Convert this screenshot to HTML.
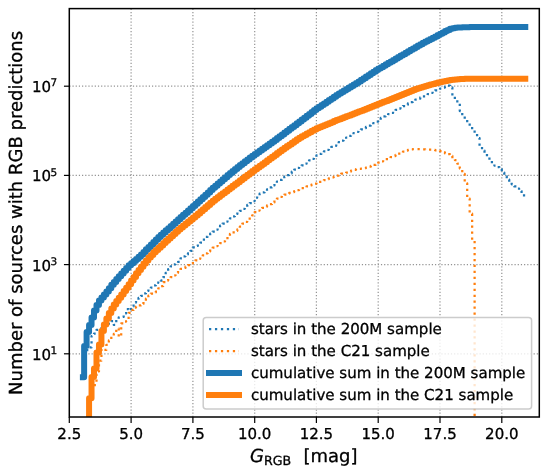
<!DOCTYPE html>
<html lang="en"><head><meta charset="utf-8"><title>Number of sources with RGB predictions</title>
<style>html,body{margin:0;padding:0;background:#fff;}svg{display:block;}text{font-family:"DejaVu Sans","Liberation Sans",sans-serif;fill:#000;stroke:#000;stroke-width:0.3px;text-rendering:geometricPrecision;}</style></head><body>
<svg width="550" height="472" viewBox="0 0 550 472">
<rect x="0" y="0" width="550" height="472" fill="#ffffff"/>
<defs><clipPath id="ax"><rect x="69.3" y="8.6" width="470.0" height="408.4"/></clipPath></defs>
<g stroke="#939393" stroke-width="1.2" stroke-dasharray="1.2 1.98" fill="none">
<line x1="131.1" y1="417.0" x2="131.1" y2="8.6"/>
<line x1="192.9" y1="417.0" x2="192.9" y2="8.6"/>
<line x1="254.7" y1="417.0" x2="254.7" y2="8.6"/>
<line x1="316.4" y1="417.0" x2="316.4" y2="8.6"/>
<line x1="378.2" y1="417.0" x2="378.2" y2="8.6"/>
<line x1="440.0" y1="417.0" x2="440.0" y2="8.6"/>
<line x1="501.8" y1="417.0" x2="501.8" y2="8.6"/>
<line x1="69.3" y1="353.8" x2="539.3" y2="353.8"/>
<line x1="69.3" y1="264.6" x2="539.3" y2="264.6"/>
<line x1="69.3" y1="175.4" x2="539.3" y2="175.4"/>
<line x1="69.3" y1="86.2" x2="539.3" y2="86.2"/>
</g>
<g clip-path="url(#ax)" fill="none" stroke-linejoin="round">
<path d="M82.89 376.60 L84.13 376.60 L84.13 350.36 L86.60 350.36 L86.60 350.00 L89.07 350.00 L89.07 347.47 L91.54 347.47 L91.54 336.01 L94.01 336.01 L94.01 333.50 L96.49 333.50 L96.49 329.99 L98.96 329.99 L98.96 328.50 L101.43 328.50 L101.43 327.00 L103.90 327.00 L103.90 325.48 L106.37 325.48 L106.37 324.00 L108.84 324.00 L108.84 322.50 L111.31 322.50 L111.31 321.08 L113.79 321.08 L113.79 324.95 L116.26 324.95 L116.26 319.52 L118.73 319.52 L118.73 317.33 L121.20 317.33 L121.20 316.95 L123.67 316.95 L123.67 313.49 L126.14 313.49 L126.14 309.04 L128.61 309.04 L128.61 310.42 L131.09 310.42 L131.09 306.47 L133.56 306.47 L133.56 302.51 L136.03 302.51 L136.03 300.04 L138.50 300.04 L138.50 297.97 L140.97 297.97 L140.97 295.76 L143.44 295.76 L143.44 293.42 L145.91 293.42 L145.91 290.95 L148.38 290.95 L148.38 288.74 L150.86 288.74 L150.86 287.50 L153.33 287.50 L153.33 285.44 L155.80 285.44 L155.80 282.79 L158.27 282.79 L158.27 280.14 L160.74 280.14 L160.74 280.60 L163.21 280.60 L163.21 277.06 L165.68 277.06 L165.68 272.82 L168.16 272.82 L168.16 269.11 L170.63 269.11 L170.63 266.29 L173.10 266.29 L173.10 264.36 L175.57 264.36 L175.57 263.87 L178.04 263.87 L178.04 261.98 L180.51 261.98 L180.51 258.28 L182.98 258.28 L182.98 256.25 L185.46 256.25 L185.46 254.38 L187.93 254.38 L187.93 253.39 L190.40 253.39 L190.40 250.86 L192.87 250.86 L192.87 247.37 L195.34 247.37 L195.34 245.92 L197.81 245.92 L197.81 244.30 L200.28 244.30 L200.28 242.61 L202.76 242.61 L202.76 239.72 L205.23 239.72 L205.23 236.82 L207.70 236.82 L207.70 235.58 L210.17 235.58 L210.17 233.60 L212.64 233.60 L212.64 231.58 L215.11 231.58 L215.11 229.65 L217.58 229.65 L217.58 227.69 L220.06 227.69 L220.06 225.66 L222.53 225.66 L222.53 223.67 L225.00 223.67 L225.00 221.73 L227.47 221.73 L227.47 219.96 L229.94 219.96 L229.94 218.32 L232.41 218.32 L232.41 216.35 L234.88 216.35 L234.88 213.88 L237.36 213.88 L237.36 212.29 L239.83 212.29 L239.83 210.77 L242.30 210.77 L242.30 208.84 L244.77 208.84 L244.77 206.91 L247.24 206.91 L247.24 204.98 L249.71 204.98 L249.71 203.02 L252.18 203.02 L252.18 201.04 L254.65 201.04 L254.65 197.87 L257.13 197.87 L257.13 195.76 L259.60 195.76 L259.60 193.66 L262.07 193.66 L262.07 192.42 L264.54 192.42 L264.54 191.21 L267.01 191.21 L267.01 189.42 L269.48 189.42 L269.48 187.44 L271.95 187.44 L271.95 185.38 L274.43 185.38 L274.43 183.32 L276.90 183.32 L276.90 181.54 L279.37 181.54 L279.37 179.90 L281.84 179.90 L281.84 178.26 L284.31 178.26 L284.31 176.65 L286.78 176.65 L286.78 175.01 L289.25 175.01 L289.25 173.31 L291.73 173.31 L291.73 171.60 L294.20 171.60 L294.20 169.66 L296.67 169.66 L296.67 167.90 L299.14 167.90 L299.14 166.66 L301.61 166.66 L301.61 165.40 L304.08 165.40 L304.08 163.74 L306.55 163.74 L306.55 162.08 L309.03 162.08 L309.03 160.43 L311.50 160.43 L311.50 158.78 L313.97 158.78 L313.97 157.12 L316.44 157.12 L316.44 155.46 L318.91 155.46 L318.91 153.98 L321.38 153.98 L321.38 152.74 L323.85 152.74 L323.85 151.41 L326.33 151.41 L326.33 149.80 L328.80 149.80 L328.80 148.18 L331.27 148.18 L331.27 146.97 L333.74 146.97 L333.74 145.76 L336.21 145.76 L336.21 144.02 L338.68 144.02 L338.68 142.15 L341.15 142.15 L341.15 140.53 L343.63 140.53 L343.63 139.10 L346.10 139.10 L346.10 137.56 L348.57 137.56 L348.57 135.87 L351.04 135.87 L351.04 134.27 L353.51 134.27 L353.51 133.05 L355.98 133.05 L355.98 131.84 L358.45 131.84 L358.45 130.61 L360.93 130.61 L360.93 129.37 L363.40 129.37 L363.40 128.15 L365.87 128.15 L365.87 126.94 L368.34 126.94 L368.34 125.69 L370.81 125.69 L370.81 124.41 L373.28 124.41 L373.28 123.06 L375.75 123.06 L375.75 121.61 L378.22 121.61 L378.22 119.91 L380.70 119.91 L380.70 117.97 L383.17 117.97 L383.17 116.40 L385.64 116.40 L385.64 115.29 L388.11 115.29 L388.11 114.18 L390.58 114.18 L390.58 112.98 L393.05 112.98 L393.05 111.47 L395.52 111.47 L395.52 109.96 L398.00 109.96 L398.00 108.53 L400.47 108.53 L400.47 107.30 L402.94 107.30 L402.94 106.06 L405.41 106.06 L405.41 104.83 L407.88 104.83 L407.88 103.44 L410.35 103.44 L410.35 102.06 L412.82 102.06 L412.82 100.82 L415.30 100.82 L415.30 99.69 L417.77 99.69 L417.77 98.65 L420.24 98.65 L420.24 97.41 L422.71 97.41 L422.71 96.25 L425.18 96.25 L425.18 95.29 L427.65 95.29 L427.65 94.11 L430.12 94.11 L430.12 92.87 L432.60 92.87 L432.60 91.60 L435.07 91.60 L435.07 90.45 L437.54 90.45 L437.54 89.56 L440.01 89.56 L440.01 88.57 L442.48 88.57 L442.48 87.53 L444.95 87.53 L444.95 86.57 L447.42 86.57 L447.42 85.62 L449.90 85.62 L449.90 87.49 L452.37 87.49 L452.37 96.00 L454.84 96.00 L454.84 99.96 L457.31 99.96 L457.31 103.64 L459.78 103.64 L459.78 111.03 L462.25 111.03 L462.25 115.98 L464.72 115.98 L464.72 120.07 L467.20 120.07 L467.20 123.04 L469.67 123.04 L469.67 126.50 L472.14 126.50 L472.14 130.11 L474.61 130.11 L474.61 133.78 L477.08 133.78 L477.08 138.06 L479.55 138.06 L479.55 146.64 L482.02 146.64 L482.02 150.58 L484.50 150.58 L484.50 153.84 L486.97 153.84 L486.97 157.00 L489.44 157.00 L489.44 160.59 L491.91 160.59 L491.91 163.54 L494.38 163.54 L494.38 165.51 L496.85 165.51 L496.85 167.07 L499.32 167.07 L499.32 169.08 L501.80 169.08 L501.80 172.54 L504.27 172.54 L504.27 176.14 L506.74 176.14 L506.74 179.58 L509.21 179.58 L509.21 182.34 L511.68 182.34 L511.68 184.31 L514.15 184.31 L514.15 186.38 L516.62 186.38 L516.62 188.56 L519.09 188.56 L519.09 191.04 L521.57 191.04 L521.57 194.14 L524.04 194.14 L524.04 197.50 L525.27 197.50" stroke="#1f77b4" stroke-width="2.25" stroke-dasharray="2.25 3.71"/>
<path d="M89.07 440.00 L89.07 398.36 L91.54 398.36 L91.54 385.01 L94.01 385.01 L94.01 385.00 L96.49 385.00 L96.49 371.41 L98.96 371.41 L98.96 360.73 L101.43 360.73 L101.43 349.00 L103.90 349.00 L103.90 349.93 L106.37 349.93 L106.37 344.99 L108.84 344.99 L108.84 340.49 L111.31 340.49 L111.31 336.45 L113.79 336.45 L113.79 333.95 L116.26 333.95 L116.26 328.42 L118.73 328.42 L118.73 336.68 L121.20 336.68 L121.20 323.47 L123.67 323.47 L123.67 321.50 L126.14 321.50 L126.14 321.00 L128.61 321.00 L128.61 312.94 L131.09 312.94 L131.09 309.98 L133.56 309.98 L133.56 307.51 L136.03 307.51 L136.03 306.51 L138.50 306.51 L138.50 305.48 L140.97 305.48 L140.97 303.99 L143.44 303.99 L143.44 301.39 L145.91 301.39 L145.91 298.62 L148.38 298.62 L148.38 295.64 L150.86 295.64 L150.86 293.66 L153.33 293.66 L153.33 292.45 L155.80 292.45 L155.80 291.62 L158.27 291.62 L158.27 288.30 L160.74 288.30 L160.74 286.08 L163.21 286.08 L163.21 282.14 L165.68 282.14 L165.68 280.53 L168.16 280.53 L168.16 278.89 L170.63 278.89 L170.63 277.11 L173.10 277.11 L173.10 275.34 L175.57 275.34 L175.57 272.87 L178.04 272.87 L178.04 269.93 L180.51 269.93 L180.51 268.94 L182.98 268.94 L182.98 267.90 L185.46 267.90 L185.46 266.70 L187.93 266.70 L187.93 265.12 L190.40 265.12 L190.40 263.43 L192.87 263.43 L192.87 261.87 L195.34 261.87 L195.34 260.42 L197.81 260.42 L197.81 258.83 L200.28 258.83 L200.28 257.19 L202.76 257.19 L202.76 255.36 L205.23 255.36 L205.23 253.37 L207.70 253.37 L207.70 251.39 L210.17 251.39 L210.17 249.42 L212.64 249.42 L212.64 247.74 L215.11 247.74 L215.11 246.12 L217.58 246.12 L217.58 244.55 L220.06 244.55 L220.06 243.02 L222.53 243.02 L222.53 241.42 L225.00 241.42 L225.00 239.80 L227.47 239.80 L227.47 236.71 L229.94 236.71 L229.94 233.79 L232.41 233.79 L232.41 232.31 L234.88 232.31 L234.88 230.85 L237.36 230.85 L237.36 229.40 L239.83 229.40 L239.83 226.70 L242.30 226.70 L242.30 223.68 L244.77 223.68 L244.77 221.84 L247.24 221.84 L247.24 219.72 L249.71 219.72 L249.71 217.26 L252.18 217.26 L252.18 215.34 L254.65 215.34 L254.65 212.18 L257.13 212.18 L257.13 210.60 L259.60 210.60 L259.60 209.14 L262.07 209.14 L262.07 207.92 L264.54 207.92 L264.54 206.71 L267.01 206.71 L267.01 205.44 L269.48 205.44 L269.48 204.16 L271.95 204.16 L271.95 202.46 L274.43 202.46 L274.43 200.44 L276.90 200.44 L276.90 198.54 L279.37 198.54 L279.37 196.90 L281.84 196.90 L281.84 195.37 L284.31 195.37 L284.31 194.52 L286.78 194.52 L286.78 193.66 L289.25 193.66 L289.25 192.84 L291.73 192.84 L291.73 192.01 L294.20 192.01 L294.20 191.03 L296.67 191.03 L296.67 190.00 L299.14 190.00 L299.14 189.05 L301.61 189.05 L301.61 188.18 L304.08 188.18 L304.08 187.29 L306.55 187.29 L306.55 186.34 L309.03 186.34 L309.03 185.41 L311.50 185.41 L311.50 184.56 L313.97 184.56 L313.97 183.70 L316.44 183.70 L316.44 182.75 L318.91 182.75 L318.91 181.79 L321.38 181.79 L321.38 180.91 L323.85 180.91 L323.85 180.05 L326.33 180.05 L326.33 179.17 L328.80 179.17 L328.80 178.25 L331.27 178.25 L331.27 177.37 L333.74 177.37 L333.74 176.56 L336.21 176.56 L336.21 175.74 L338.68 175.74 L338.68 174.73 L341.15 174.73 L341.15 173.73 L343.63 173.73 L343.63 173.13 L346.10 173.13 L346.10 172.59 L348.57 172.59 L348.57 171.51 L351.04 171.51 L351.04 170.51 L353.51 170.51 L353.51 169.82 L355.98 169.82 L355.98 169.12 L358.45 169.12 L358.45 168.92 L360.93 168.92 L360.93 168.74 L363.40 168.74 L363.40 168.24 L365.87 168.24 L365.87 167.65 L368.34 167.65 L368.34 166.72 L370.81 166.72 L370.81 165.75 L373.28 165.75 L373.28 164.77 L375.75 164.77 L375.75 163.78 L378.22 163.78 L378.22 162.62 L380.70 162.62 L380.70 161.30 L383.17 161.30 L383.17 160.07 L385.64 160.07 L385.64 159.05 L388.11 159.05 L388.11 158.05 L390.58 158.05 L390.58 157.09 L393.05 157.09 L393.05 156.05 L395.52 156.05 L395.52 154.79 L398.00 154.79 L398.00 153.55 L400.47 153.55 L400.47 152.56 L402.94 152.56 L402.94 151.58 L405.41 151.58 L405.41 150.61 L407.88 150.61 L407.88 149.85 L410.35 149.85 L410.35 149.44 L412.82 149.44 L412.82 149.10 L415.30 149.10 L417.77 149.10 L420.24 149.10 L420.24 149.26 L422.71 149.26 L422.71 149.42 L425.18 149.42 L425.18 149.50 L427.65 149.50 L430.12 149.50 L430.12 149.56 L432.60 149.56 L432.60 149.90 L435.07 149.90 L435.07 150.25 L437.54 150.25 L437.54 150.61 L440.01 150.61 L440.01 151.18 L442.48 151.18 L442.48 152.44 L444.95 152.44 L444.95 153.45 L447.42 153.45 L447.42 154.17 L449.90 154.17 L449.90 155.97 L452.37 155.97 L452.37 158.34 L454.84 158.34 L454.84 160.08 L457.31 160.08 L457.31 163.69 L459.78 163.69 L459.78 168.54 L462.25 168.54 L462.25 173.97 L464.72 173.97 L464.72 183.37 L467.20 183.37 L467.20 198.69 L469.67 198.69 L469.67 213.73 L472.14 213.73 L472.14 241.00 L474.61 241.00 L474.61 440.00" stroke="#ff7f0e" stroke-width="2.25" stroke-dasharray="2.25 3.71"/>
<path d="M82.89 377.20 L84.13 377.20 L84.13 346.07 L86.60 346.07 L86.60 332.03 L89.07 332.03 L89.07 324.98 L91.54 324.98 L91.54 317.51 L94.01 317.51 L94.01 310.50 L96.49 310.50 L96.49 304.96 L98.96 304.96 L98.96 300.51 L101.43 300.51 L101.43 297.47 L103.90 297.47 L103.90 294.43 L106.37 294.43 L106.37 291.38 L108.84 291.38 L108.84 288.13 L111.31 288.13 L111.31 284.83 L113.79 284.83 L113.79 281.91 L116.26 281.91 L116.26 279.03 L118.73 279.03 L118.73 276.22 L121.20 276.22 L121.20 273.44 L123.67 273.44 L123.67 270.69 L126.14 270.69 L126.14 267.96 L128.61 267.96 L128.61 265.29 L131.09 265.29 L131.09 263.18 L133.56 263.18 L133.56 261.07 L136.03 261.07 L136.03 258.89 L138.50 258.89 L138.50 256.67 L140.97 256.67 L140.97 254.39 L143.44 254.39 L143.44 251.88 L145.91 251.88 L145.91 249.37 L148.38 249.37 L148.38 246.88 L150.86 246.88 L150.86 244.41 L153.33 244.41 L153.33 241.94 L155.80 241.94 L155.80 239.51 L158.27 239.51 L158.27 237.09 L160.74 237.09 L160.74 234.82 L163.21 234.82 L163.21 232.60 L165.68 232.60 L165.68 230.37 L168.16 230.37 L168.16 228.15 L170.63 228.15 L170.63 225.90 L173.10 225.90 L173.10 223.66 L175.57 223.66 L175.57 221.41 L178.04 221.41 L178.04 219.16 L180.51 219.16 L180.51 216.97 L182.98 216.97 L182.98 214.80 L185.46 214.80 L185.46 212.64 L187.93 212.64 L187.93 210.47 L190.40 210.47 L190.40 208.31 L192.87 208.31 L192.87 206.09 L195.34 206.09 L195.34 203.81 L197.81 203.81 L197.81 201.52 L200.28 201.52 L200.28 199.24 L202.76 199.24 L202.76 196.96 L205.23 196.96 L205.23 194.68 L207.70 194.68 L207.70 192.40 L210.17 192.40 L210.17 190.12 L212.64 190.12 L212.64 187.84 L215.11 187.84 L215.11 185.65 L217.58 185.65 L217.58 183.54 L220.06 183.54 L220.06 181.43 L222.53 181.43 L222.53 179.32 L225.00 179.32 L225.00 177.21 L227.47 177.21 L227.47 175.10 L229.94 175.10 L229.94 172.99 L232.41 172.99 L232.41 170.88 L234.88 170.88 L234.88 168.89 L237.36 168.89 L237.36 167.01 L239.83 167.01 L239.83 165.12 L242.30 165.12 L242.30 163.24 L244.77 163.24 L244.77 161.35 L247.24 161.35 L247.24 159.47 L249.71 159.47 L249.71 157.59 L252.18 157.59 L252.18 155.70 L254.65 155.70 L254.65 153.89 L257.13 153.89 L257.13 152.15 L259.60 152.15 L259.60 150.41 L262.07 150.41 L262.07 148.66 L264.54 148.66 L264.54 146.92 L267.01 146.92 L267.01 145.18 L269.48 145.18 L269.48 143.44 L271.95 143.44 L271.95 141.69 L274.43 141.69 L274.43 139.91 L276.90 139.91 L276.90 138.06 L279.37 138.06 L279.37 136.22 L281.84 136.22 L281.84 134.38 L284.31 134.38 L284.31 132.54 L286.78 132.54 L286.78 130.69 L289.25 130.69 L289.25 128.85 L291.73 128.85 L291.73 127.01 L294.20 127.01 L294.20 125.16 L296.67 125.16 L296.67 123.32 L299.14 123.32 L299.14 121.44 L301.61 121.44 L301.61 119.55 L304.08 119.55 L304.08 117.66 L306.55 117.66 L306.55 115.78 L309.03 115.78 L309.03 113.89 L311.50 113.89 L311.50 112.00 L313.97 112.00 L313.97 110.11 L316.44 110.11 L316.44 108.35 L318.91 108.35 L318.91 106.69 L321.38 106.69 L321.38 105.04 L323.85 105.04 L323.85 103.38 L326.33 103.38 L326.33 101.73 L328.80 101.73 L328.80 100.07 L331.27 100.07 L331.27 98.41 L333.74 98.41 L333.74 96.76 L336.21 96.76 L336.21 95.10 L338.68 95.10 L338.68 93.54 L341.15 93.54 L341.15 92.02 L343.63 92.02 L343.63 90.51 L346.10 90.51 L346.10 88.99 L348.57 88.99 L348.57 87.47 L351.04 87.47 L351.04 85.95 L353.51 85.95 L353.51 84.43 L355.98 84.43 L355.98 82.91 L358.45 82.91 L358.45 81.39 L360.93 81.39 L360.93 79.79 L363.40 79.79 L363.40 78.18 L365.87 78.18 L365.87 76.57 L368.34 76.57 L368.34 74.96 L370.81 74.96 L370.81 73.34 L373.28 73.34 L373.28 71.73 L375.75 71.73 L375.75 70.12 L378.22 70.12 L378.22 68.58 L380.70 68.58 L380.70 67.14 L383.17 67.14 L383.17 65.70 L385.64 65.70 L385.64 64.26 L388.11 64.26 L388.11 62.82 L390.58 62.82 L390.58 61.38 L393.05 61.38 L393.05 59.94 L395.52 59.94 L395.52 58.50 L398.00 58.50 L398.00 57.06 L400.47 57.06 L400.47 55.62 L402.94 55.62 L402.94 54.18 L405.41 54.18 L405.41 52.73 L407.88 52.73 L407.88 51.28 L410.35 51.28 L410.35 49.83 L412.82 49.83 L412.82 48.38 L415.30 48.38 L415.30 46.93 L417.77 46.93 L417.77 45.48 L420.24 45.48 L420.24 44.13 L422.71 44.13 L422.71 42.85 L425.18 42.85 L425.18 41.57 L427.65 41.57 L427.65 40.28 L430.12 40.28 L430.12 38.99 L432.60 38.99 L432.60 37.69 L435.07 37.69 L435.07 36.39 L437.54 36.39 L437.54 35.09 L440.01 35.09 L440.01 33.77 L442.48 33.77 L442.48 32.44 L444.95 32.44 L444.95 31.11 L447.42 31.11 L447.42 29.98 L449.90 29.98 L449.90 28.87 L452.37 28.87 L452.37 28.32 L454.84 28.32 L454.84 27.77 L457.31 27.77 L457.31 27.55 L459.78 27.55 L459.78 27.38 L462.25 27.38 L462.25 27.21 L464.72 27.21 L464.72 27.17 L467.20 27.17 L467.20 27.13 L469.67 27.13 L469.67 27.10 L472.14 27.10 L472.14 27.06 L474.61 27.06 L474.61 27.03 L477.08 27.03 L477.08 27.00 L479.55 27.00 L482.02 27.00 L484.50 27.00 L486.97 27.00 L489.44 27.00 L491.91 27.00 L494.38 27.00 L496.85 27.00 L499.32 27.00 L501.80 27.00 L504.27 27.00 L506.74 27.00 L509.21 27.00 L511.68 27.00 L514.15 27.00 L516.62 27.00 L519.09 27.00 L521.57 27.00 L524.04 27.00 L525.27 27.00" stroke="#1f77b4" stroke-width="6" stroke-linecap="square"/>
<path d="M89.07 440.00 L89.07 398.34 L91.54 398.34 L91.54 377.01 L94.01 377.01 L94.01 368.50 L96.49 368.50 L96.49 352.43 L98.96 352.43 L98.96 344.52 L101.43 344.52 L101.43 330.99 L103.90 330.99 L103.90 324.42 L106.37 324.42 L106.37 318.49 L108.84 318.49 L108.84 312.99 L111.31 312.99 L111.31 308.52 L113.79 308.52 L113.79 304.47 L116.26 304.47 L116.26 301.01 L118.73 301.01 L118.73 297.70 L121.20 297.70 L121.20 294.40 L123.67 294.40 L123.67 291.07 L126.14 291.07 L126.14 287.71 L128.61 287.71 L128.61 284.23 L131.09 284.23 L131.09 280.52 L133.56 280.52 L133.56 276.88 L136.03 276.88 L136.03 273.30 L138.50 273.30 L138.50 269.90 L140.97 269.90 L140.97 266.64 L143.44 266.64 L143.44 263.48 L145.91 263.48 L145.91 260.44 L148.38 260.44 L148.38 257.47 L150.86 257.47 L150.86 254.91 L153.33 254.91 L153.33 252.35 L155.80 252.35 L155.80 250.03 L158.27 250.03 L158.27 247.75 L160.74 247.75 L160.74 245.41 L163.21 245.41 L163.21 243.05 L165.68 243.05 L165.68 240.76 L168.16 240.76 L168.16 238.46 L170.63 238.46 L170.63 236.20 L173.10 236.20 L173.10 233.96 L175.57 233.96 L175.57 231.71 L178.04 231.71 L178.04 229.46 L180.51 229.46 L180.51 227.40 L182.98 227.40 L182.98 225.43 L185.46 225.43 L185.46 223.46 L187.93 223.46 L187.93 221.48 L190.40 221.48 L190.40 219.51 L192.87 219.51 L192.87 217.50 L195.34 217.50 L195.34 215.44 L197.81 215.44 L197.81 213.39 L200.28 213.39 L200.28 211.30 L202.76 211.30 L202.76 209.19 L205.23 209.19 L205.23 207.09 L207.70 207.09 L207.70 204.98 L210.17 204.98 L210.17 202.87 L212.64 202.87 L212.64 200.76 L215.11 200.76 L215.11 198.79 L217.58 198.79 L217.58 196.94 L220.06 196.94 L220.06 195.10 L222.53 195.10 L222.53 193.25 L225.00 193.25 L225.00 191.40 L227.47 191.40 L227.47 189.56 L229.94 189.56 L229.94 187.71 L232.41 187.71 L232.41 185.86 L234.88 185.86 L234.88 184.01 L237.36 184.01 L237.36 182.17 L239.83 182.17 L239.83 180.32 L242.30 180.32 L242.30 178.47 L244.77 178.47 L244.77 176.62 L247.24 176.62 L247.24 174.78 L249.71 174.78 L249.71 172.93 L252.18 172.93 L252.18 171.08 L254.65 171.08 L254.65 169.27 L257.13 169.27 L257.13 167.49 L259.60 167.49 L259.60 165.71 L262.07 165.71 L262.07 163.93 L264.54 163.93 L264.54 162.15 L267.01 162.15 L267.01 160.37 L269.48 160.37 L269.48 158.59 L271.95 158.59 L271.95 156.81 L274.43 156.81 L274.43 154.99 L276.90 154.99 L276.90 153.12 L279.37 153.12 L279.37 151.28 L281.84 151.28 L281.84 149.55 L284.31 149.55 L284.31 147.83 L286.78 147.83 L286.78 146.10 L289.25 146.10 L289.25 144.38 L291.73 144.38 L291.73 142.66 L294.20 142.66 L294.20 140.93 L296.67 140.93 L296.67 139.21 L299.14 139.21 L299.14 137.77 L301.61 137.77 L301.61 136.37 L304.08 136.37 L304.08 134.97 L306.55 134.97 L306.55 133.57 L309.03 133.57 L309.03 132.17 L311.50 132.17 L311.50 130.78 L313.97 130.78 L313.97 129.38 L316.44 129.38 L316.44 128.18 L318.91 128.18 L318.91 127.17 L321.38 127.17 L321.38 126.16 L323.85 126.16 L323.85 125.15 L326.33 125.15 L326.33 124.14 L328.80 124.14 L328.80 123.13 L331.27 123.13 L331.27 122.13 L333.74 122.13 L333.74 121.12 L336.21 121.12 L336.21 120.11 L338.68 120.11 L338.68 119.15 L341.15 119.15 L341.15 118.20 L343.63 118.20 L343.63 117.26 L346.10 117.26 L346.10 116.32 L348.57 116.32 L348.57 115.38 L351.04 115.38 L351.04 114.44 L353.51 114.44 L353.51 113.50 L355.98 113.50 L355.98 112.56 L358.45 112.56 L358.45 111.62 L360.93 111.62 L360.93 110.65 L363.40 110.65 L363.40 109.67 L365.87 109.67 L365.87 108.70 L368.34 108.70 L368.34 107.72 L370.81 107.72 L370.81 106.75 L373.28 106.75 L373.28 105.77 L375.75 105.77 L375.75 104.80 L378.22 104.80 L378.22 103.82 L380.70 103.82 L380.70 102.84 L383.17 102.84 L383.17 101.86 L385.64 101.86 L385.64 100.88 L388.11 100.88 L388.11 99.90 L390.58 99.90 L390.58 98.92 L393.05 98.92 L393.05 97.94 L395.52 97.94 L395.52 96.96 L398.00 96.96 L398.00 95.97 L400.47 95.97 L400.47 94.98 L402.94 94.98 L402.94 94.00 L405.41 94.00 L405.41 93.01 L407.88 93.01 L407.88 92.02 L410.35 92.02 L410.35 91.04 L412.82 91.04 L412.82 90.05 L415.30 90.05 L415.30 89.07 L417.77 89.07 L417.77 88.16 L420.24 88.16 L420.24 87.43 L422.71 87.43 L422.71 86.70 L425.18 86.70 L425.18 85.96 L427.65 85.96 L427.65 85.23 L430.12 85.23 L430.12 84.54 L432.60 84.54 L432.60 83.89 L435.07 83.89 L435.07 83.24 L437.54 83.24 L437.54 82.60 L440.01 82.60 L440.01 82.03 L442.48 82.03 L442.48 81.53 L444.95 81.53 L444.95 81.03 L447.42 81.03 L447.42 80.53 L449.90 80.53 L449.90 80.03 L452.37 80.03 L452.37 79.70 L454.84 79.70 L454.84 79.43 L457.31 79.43 L457.31 79.16 L459.78 79.16 L459.78 78.97 L462.25 78.97 L462.25 78.89 L464.72 78.89 L464.72 78.81 L467.20 78.81 L467.20 78.80 L469.67 78.80 L469.67 78.79 L472.14 78.79 L472.14 78.79 L474.61 78.79 L474.61 78.78 L477.08 78.78 L477.08 78.78 L479.55 78.78 L479.55 78.78 L482.02 78.78 L482.02 78.77 L484.50 78.77 L484.50 78.77 L486.97 78.77 L486.97 78.76 L489.44 78.76 L489.44 78.76 L491.91 78.76 L491.91 78.76 L494.38 78.76 L494.38 78.75 L496.85 78.75 L496.85 78.75 L499.32 78.75 L499.32 78.74 L501.80 78.74 L501.80 78.74 L504.27 78.74 L504.27 78.73 L506.74 78.73 L506.74 78.73 L509.21 78.73 L509.21 78.73 L511.68 78.73 L511.68 78.72 L514.15 78.72 L514.15 78.72 L516.62 78.72 L516.62 78.71 L519.09 78.71 L519.09 78.71 L521.57 78.71 L521.57 78.71 L524.04 78.71 L524.04 78.70 L525.27 78.70" stroke="#ff7f0e" stroke-width="6" stroke-linecap="square"/>
</g>
<g stroke="#000" stroke-width="1.2" fill="none">
<line x1="69.3" y1="417.0" x2="69.3" y2="422.90"/>
<line x1="131.1" y1="417.0" x2="131.1" y2="422.90"/>
<line x1="192.9" y1="417.0" x2="192.9" y2="422.90"/>
<line x1="254.7" y1="417.0" x2="254.7" y2="422.90"/>
<line x1="316.4" y1="417.0" x2="316.4" y2="422.90"/>
<line x1="378.2" y1="417.0" x2="378.2" y2="422.90"/>
<line x1="440.0" y1="417.0" x2="440.0" y2="422.90"/>
<line x1="501.8" y1="417.0" x2="501.8" y2="422.90"/>
<line x1="69.3" y1="353.8" x2="63.95" y2="353.8"/>
<line x1="69.3" y1="264.6" x2="63.95" y2="264.6"/>
<line x1="69.3" y1="175.4" x2="63.95" y2="175.4"/>
<line x1="69.3" y1="86.2" x2="63.95" y2="86.2"/>
</g>
<rect x="69.3" y="8.6" width="470.0" height="408.4" fill="none" stroke="#000" stroke-width="1.5"/>
<g font-size="15px" text-anchor="middle">
<text x="69.3" y="438.9">2.5</text>
<text x="131.1" y="438.9">5.0</text>
<text x="192.9" y="438.9">7.5</text>
<text x="254.7" y="438.9">10.0</text>
<text x="316.4" y="438.9">12.5</text>
<text x="378.2" y="438.9">15.0</text>
<text x="440.0" y="438.9">17.5</text>
<text x="501.8" y="438.9">20.0</text>
</g>
<g font-size="15px">
<text x="32.0" y="359.7">10<tspan font-size="10.5px" dx="-0.5" dy="-5.8">1</tspan></text>
<text x="32.0" y="270.5">10<tspan font-size="10.5px" dx="-0.5" dy="-5.8">3</tspan></text>
<text x="32.0" y="181.3">10<tspan font-size="10.5px" dx="-0.5" dy="-5.8">5</tspan></text>
<text x="32.0" y="92.1">10<tspan font-size="10.5px" dx="-0.5" dy="-5.8">7</tspan></text>
</g>
<text font-size="18px" x="250" y="462.1"><tspan font-style="oblique">G</tspan><tspan font-size="12.6px" dy="2.4" dx="0">RGB</tspan><tspan dy="-2.4" x="303.5">[mag]</tspan></text>
<text font-size="18px" text-anchor="middle" transform="translate(22.0,212.9) rotate(-90)">Number of sources with RGB predictions</text>
<rect x="203.2" y="317.5" width="328.4" height="91.4" rx="3" ry="3" fill="#ffffff" fill-opacity="0.8" stroke="#cccccc" stroke-width="1.5"/>
<line x1="209.0" y1="329" x2="239.0" y2="329" stroke="#1f77b4" stroke-width="2.25" stroke-dasharray="2.25 3.71"/>
<line x1="209.0" y1="351" x2="239.0" y2="351" stroke="#ff7f0e" stroke-width="2.25" stroke-dasharray="2.25 3.71"/>
<line x1="209.0" y1="373" x2="239.0" y2="373" stroke="#1f77b4" stroke-width="6" stroke-linecap="square"/>
<line x1="209.0" y1="395" x2="239.0" y2="395" stroke="#ff7f0e" stroke-width="6" stroke-linecap="square"/>
<g font-size="15.05px">
<text x="250.9" y="334.2">stars in the 200M sample</text>
<text x="250.9" y="356.2">stars in the C21 sample</text>
<text x="250.9" y="378.2">cumulative sum in the 200M sample</text>
<text x="250.9" y="400.2">cumulative sum in the C21 sample</text>
</g>
</svg></body></html>
